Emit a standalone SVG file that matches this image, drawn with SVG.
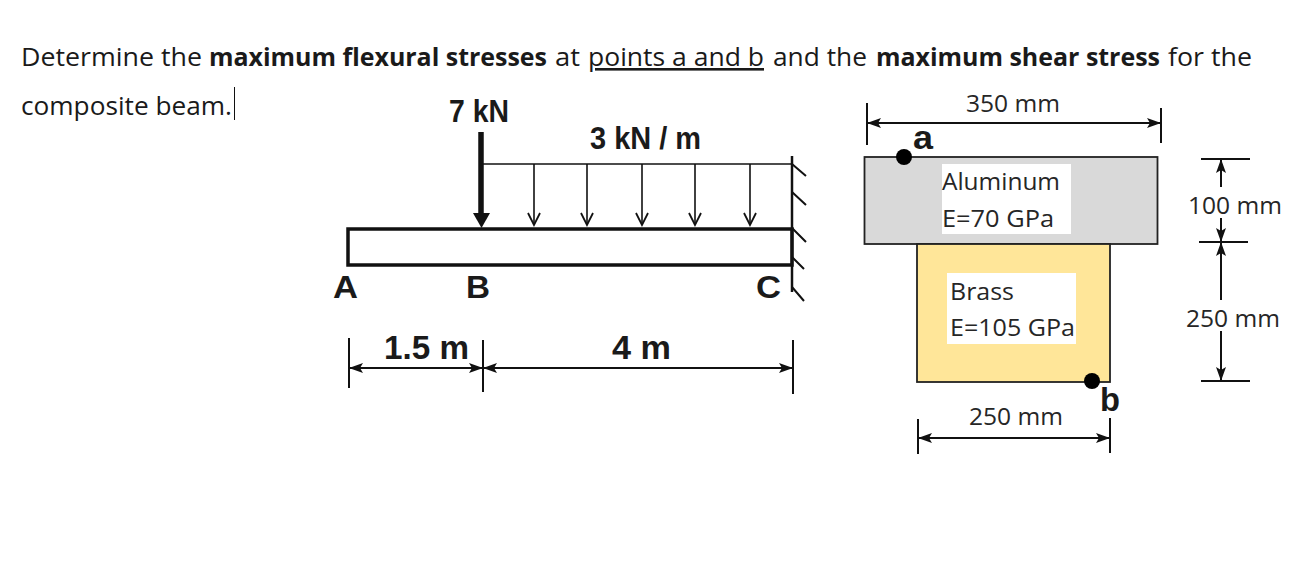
<svg xmlns="http://www.w3.org/2000/svg" width="1316" height="582" viewBox="0 0 1316 582">
<style>
.h{font:26px "Open Sans",sans-serif;fill:#1a1a1a}
.hb{font:bold 25px "Open Sans",sans-serif;fill:#1a1a1a}
.l{font:bold 31px "Liberation Sans",Arial,sans-serif;fill:#1a1a1a}
.s{font:23px "Open Sans",sans-serif;fill:#262626}
.m{font-size:24px}
.ln{stroke:#111;stroke-width:2;fill:none}
.th{stroke:#111;stroke-width:1.6;fill:none}
</style>
<defs>
<marker id="open" markerUnits="userSpaceOnUse" markerWidth="16" markerHeight="16" refX="13" refY="8" orient="auto"><path d="M1 2L13 8L1 14" fill="none" stroke="#111" stroke-width="1.800"/></marker>
<marker id="solid" markerUnits="userSpaceOnUse" markerWidth="16" markerHeight="12" refX="14" refY="6" orient="auto-start-reverse"><path d="M0 1L14 6L0 11L3 6Z" fill="#111"/></marker>
</defs>
<rect width="1316" height="582" fill="#fff"/>
<g id="problem-text">
<text class="h" x="21" y="66" textLength="181" lengthAdjust="spacingAndGlyphs">Determine the</text>
<text class="hb" x="209" y="66" textLength="338" lengthAdjust="spacingAndGlyphs">maximum flexural stresses</text>
<text class="h" x="555" y="66" textLength="25" lengthAdjust="spacingAndGlyphs">at</text>
<text class="h" x="588" y="66" textLength="176" lengthAdjust="spacingAndGlyphs" text-decoration="underline">points a and b</text>
<text class="h" x="773" y="66" textLength="94" lengthAdjust="spacingAndGlyphs">and the</text>
<text class="hb" x="876" y="66" textLength="284" lengthAdjust="spacingAndGlyphs">maximum shear stress</text>
<text class="h" x="1168" y="66" textLength="84" lengthAdjust="spacingAndGlyphs">for the</text>
<text class="h" x="21" y="115" textLength="211" lengthAdjust="spacingAndGlyphs">composite beam.</text>
<path d="M234.500 87V120" stroke="#111" stroke-width="1"/>
</g>
<g id="beam">
<rect x="348" y="229" width="444" height="36" fill="#fff" stroke="#111" stroke-width="3.500"/>
</g>
<g id="wall">
<path d="M792 156V292" stroke="#111" stroke-width="2.500" fill="none"/>
<path d="M792 164L806 176M792 192L806 205M792 228L806 242M792 257L804 269M792 287L804 301" stroke="#111" stroke-width="2" fill="none"/>
</g>
<g id="labels-beam">
<text class="l" x="449" y="122" textLength="60" lengthAdjust="spacingAndGlyphs">7 kN</text>
<text class="l" x="590" y="149" textLength="111" lengthAdjust="spacingAndGlyphs">3 kN / m</text>
<text class="l" x="333" y="298" textLength="25" lengthAdjust="spacingAndGlyphs">A</text>
<text class="l" x="466" y="298" textLength="24" lengthAdjust="spacingAndGlyphs">B</text>
<text class="l" x="756" y="298" textLength="25" lengthAdjust="spacingAndGlyphs">C</text>
<text class="l" x="384" y="359" textLength="85" lengthAdjust="spacingAndGlyphs" style="font-size:33px">1.5 m</text>
<text class="l" x="612" y="359" textLength="59" lengthAdjust="spacingAndGlyphs" style="font-size:33px">4 m</text>
</g>
<g id="section-aluminum">
<rect x="864.500" y="157" width="293" height="87" fill="#d9d9d9" stroke="#222" stroke-width="1.800"/>
<rect x="942" y="164" width="129" height="70" fill="#fff"/>
<text class="s m" x="942" y="190" textLength="118" lengthAdjust="spacingAndGlyphs">Aluminum</text>
<text class="s m" x="942" y="227" textLength="112" lengthAdjust="spacingAndGlyphs">E=70 GPa</text>
</g>
<g id="section-brass">
<rect x="917" y="244" width="193" height="138" fill="#ffe699" stroke="#222" stroke-width="1.800"/>
<rect x="947" y="273" width="129" height="71" fill="#fff"/>
<text class="s m" x="950" y="300" textLength="64" lengthAdjust="spacingAndGlyphs">Brass</text>
<text class="s m" x="950" y="336" textLength="125" lengthAdjust="spacingAndGlyphs">E=105 GPa</text>
</g>
<g id="point-a">
<circle cx="904" cy="157" r="8" fill="#000"/>
<text class="l" x="913" y="149" textLength="20" lengthAdjust="spacingAndGlyphs" style="font-size:33px">a</text>
</g>
<g id="point-b">
<circle cx="1092" cy="381" r="8" fill="#000"/>
<text class="l" x="1100" y="411" textLength="20" lengthAdjust="spacingAndGlyphs" style="font-size:33px">b</text>
</g>
<g id="connectors">
<path d="M481 132V217" stroke="#111" stroke-width="5.500" fill="none"/>
<path d="M473 213H490L481.500 228Z" fill="#111"/>
<path class="th" d="M483 164H792"/>
<path class="th" d="M534 164V225" marker-end="url(#open)"/>
<path class="th" d="M587 164V225" marker-end="url(#open)"/>
<path class="th" d="M642 164V225" marker-end="url(#open)"/>
<path class="th" d="M695 164V225" marker-end="url(#open)"/>
<path class="th" d="M750 164V225" marker-end="url(#open)"/>
<path class="ln" d="M349 338V388M483 340V392M793 340V394"/>
<path class="ln" d="M349 368H483" marker-start="url(#solid)" marker-end="url(#solid)"/>
<path class="ln" d="M483 368H793" marker-start="url(#solid)" marker-end="url(#solid)"/>
<path class="ln" d="M867 103V145M1161 108V143"/>
<path class="ln" d="M867 123H1161" marker-start="url(#solid)" marker-end="url(#solid)"/>
<path class="ln" d="M1201 159H1250M1199 242H1248M1201 381H1250"/>
<path class="ln" d="M1221 187V159" marker-end="url(#solid)"/>
<path class="ln" d="M1221 218V242" marker-end="url(#solid)"/>
<path class="ln" d="M1221 300V242" marker-end="url(#solid)"/>
<path class="ln" d="M1221 331V381" marker-end="url(#solid)"/>
<path class="ln" d="M918 419V454M1110 418V453"/>
<path class="ln" d="M918 438H1110" marker-start="url(#solid)" marker-end="url(#solid)"/>
</g>
<g id="dimension-labels">
<text class="s" x="966" y="112" textLength="94" lengthAdjust="spacingAndGlyphs">350 mm</text>
<text class="s" x="1188" y="214" textLength="94" lengthAdjust="spacingAndGlyphs">100 mm</text>
<text class="s" x="1186" y="327" textLength="94" lengthAdjust="spacingAndGlyphs">250 mm</text>
<text class="s" x="969" y="425" textLength="94" lengthAdjust="spacingAndGlyphs">250 mm</text>
</g>
</svg>
